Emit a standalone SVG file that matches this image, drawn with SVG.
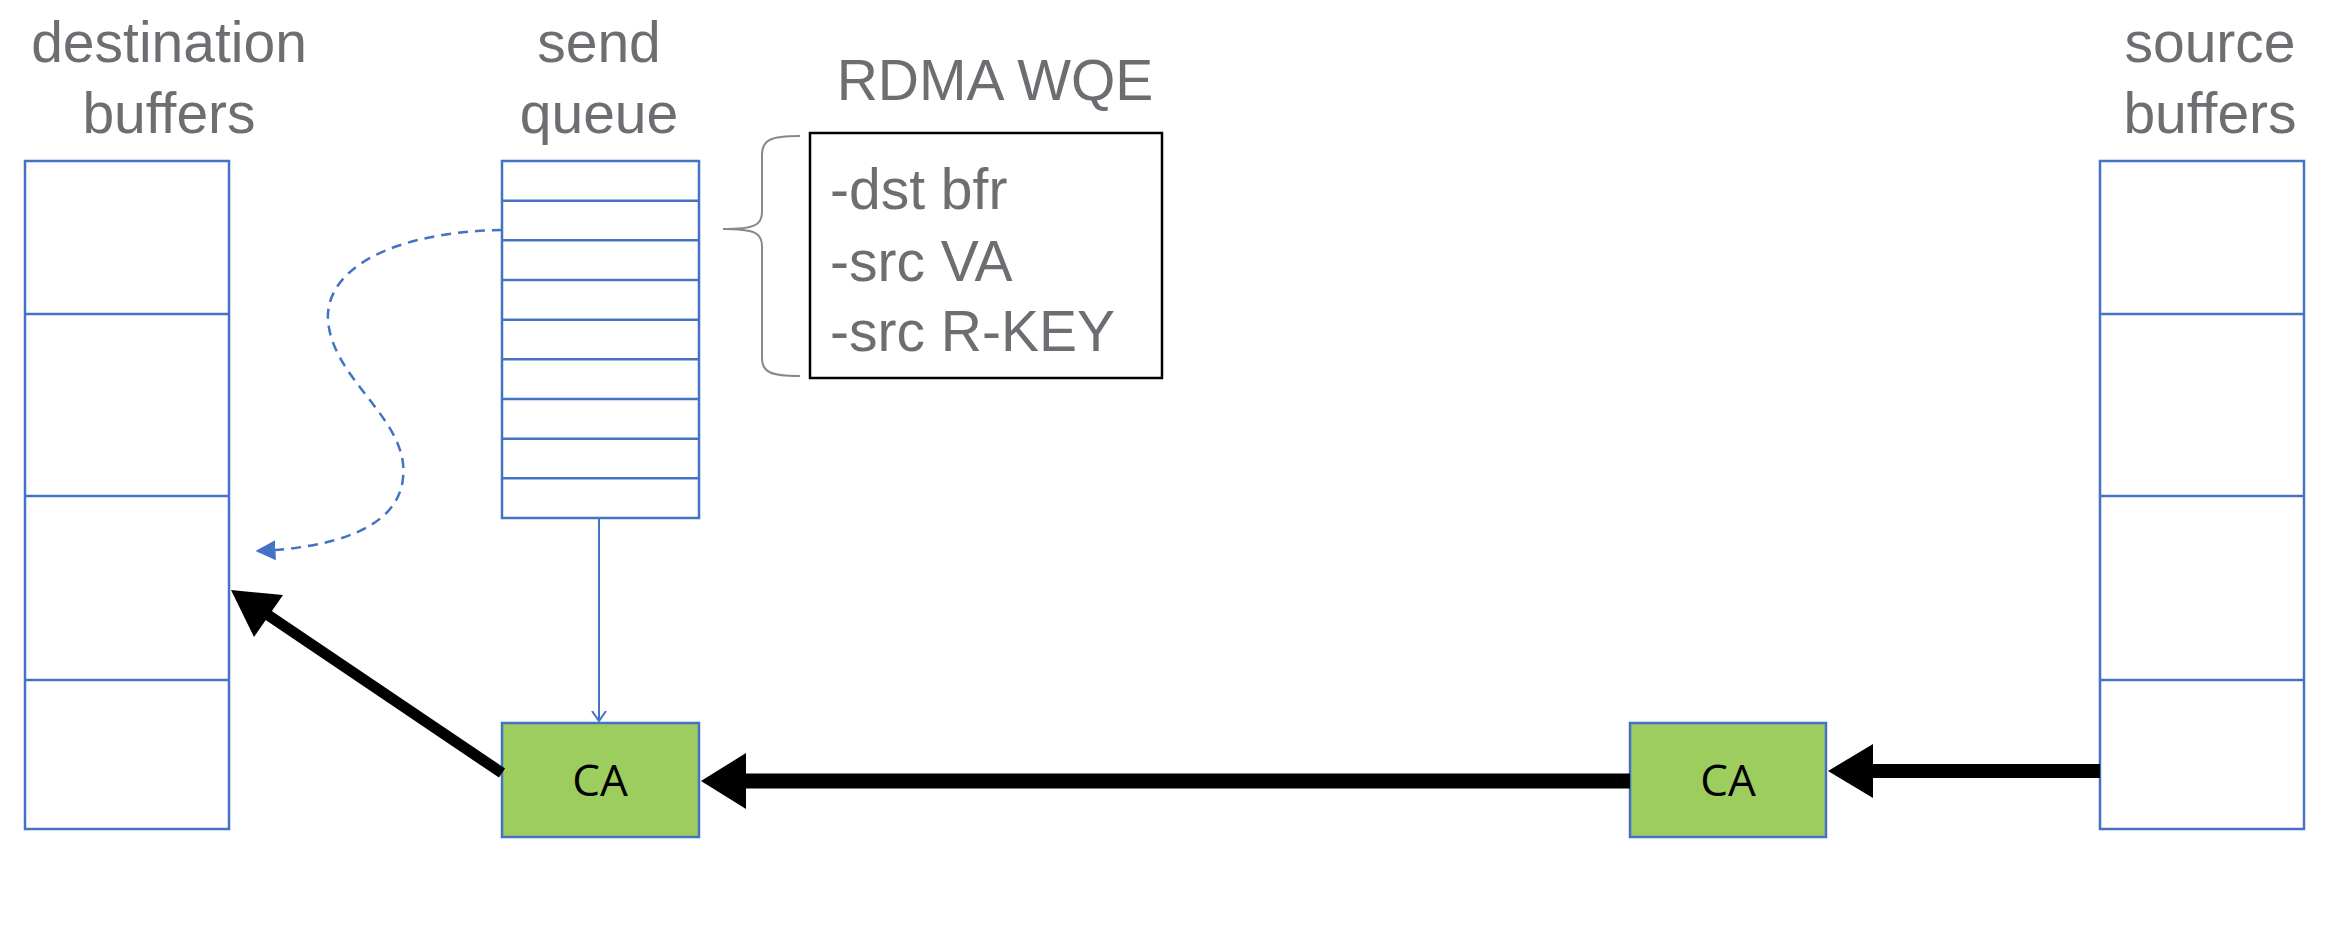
<svg xmlns="http://www.w3.org/2000/svg" width="2330" height="936" viewBox="0 0 2330 936">
<style>
.t{font-family:"Liberation Sans",Arial,sans-serif;font-size:57px;fill:#6d6e71;text-anchor:middle}
.w{font-family:"Liberation Sans",Arial,sans-serif;font-size:57px;fill:#6d6e71}
.b{fill:#fff;stroke:#4472c4;stroke-width:2.5}
.d{stroke:#4472c4;stroke-width:2.5}
.ca{fill:#9dcd5f;stroke:#4472c4;stroke-width:2.5}
.cat{font-family:"Open Sans","Liberation Sans",sans-serif;font-size:44px;fill:#000;text-anchor:middle}
</style>
<defs>
<marker id="bl" markerWidth="8" markerHeight="8" refX="7" refY="4" orient="auto" markerUnits="strokeWidth"><path d="M0,0 L8,4 L0,8 Z" fill="#4472c4"/></marker>
<marker id="op" markerWidth="12" markerHeight="16" refX="10" refY="8" orient="auto" markerUnits="userSpaceOnUse"><path d="M0,1 L10,8 L0,15" fill="none" stroke="#4472c4" stroke-width="2"/></marker>
</defs>
<g id="labels">
<text class="t" x="169" y="62">destination</text>
<text class="t" x="169" y="133">buffers</text>
<text class="t" x="599" y="62">send</text>
<text class="t" x="599" y="133">queue</text>
<text class="t" x="2210" y="62">source</text>
<text class="t" x="2210" y="133">buffers</text>
<text class="t" x="995" y="100">RDMA WQE</text>
</g>
<g id="dest-buffers">
<rect class="b" x="25" y="161" width="204" height="668"/>
<line class="d" x1="25" y1="314" x2="229" y2="314"/>
<line class="d" x1="25" y1="496" x2="229" y2="496"/>
<line class="d" x1="25" y1="680" x2="229" y2="680"/>
</g>
<g id="send-queue">
<rect class="b" x="502" y="161" width="197" height="357"/>
<line class="d" x1="502" y1="200.7" x2="699" y2="200.7"/>
<line class="d" x1="502" y1="240.3" x2="699" y2="240.3"/>
<line class="d" x1="502" y1="280" x2="699" y2="280"/>
<line class="d" x1="502" y1="319.7" x2="699" y2="319.7"/>
<line class="d" x1="502" y1="359.3" x2="699" y2="359.3"/>
<line class="d" x1="502" y1="399" x2="699" y2="399"/>
<line class="d" x1="502" y1="438.7" x2="699" y2="438.7"/>
<line class="d" x1="502" y1="478.3" x2="699" y2="478.3"/>
</g>
<g id="wqe">
<rect x="810" y="133" width="352" height="245" fill="#fff" stroke="#000" stroke-width="2.5"/>
<text class="w" x="830" y="209">-dst bfr</text>
<text class="w" x="830" y="281">-src VA</text>
<text class="w" x="830" y="351">-src R-KEY</text>
<path d="M800,136 C770,136 762,140 762,155 L762,212 C762,225 755,229 723,229 C755,229 762,233 762,246 L762,358 C762,372 770,376 800,376" fill="none" stroke="#888" stroke-width="2"/>
</g>
<g id="src-buffers">
<rect class="b" x="2100" y="161" width="204" height="668"/>
<line class="d" x1="2100" y1="314" x2="2304" y2="314"/>
<line class="d" x1="2100" y1="496" x2="2304" y2="496"/>
<line class="d" x1="2100" y1="680" x2="2304" y2="680"/>
</g>
<g id="ca-left">
<rect class="ca" x="502" y="723" width="197" height="114"/>
<text class="cat" x="600" y="796">CA</text>
</g>
<g id="ca-right">
<rect class="ca" x="1630" y="723" width="196" height="114"/>
<text class="cat" x="1728" y="796">CA</text>
</g>
<g id="connectors">
<line x1="599" y1="518" x2="599" y2="721" stroke="#4472c4" stroke-width="2" marker-end="url(#op)"/>
<path d="M502,230 C390,232 325,270 328,320 C332,380 410,420 403,478 C398,530 330,548 258,551" fill="none" stroke="#4472c4" stroke-width="2.5" stroke-dasharray="10,7" marker-end="url(#bl)"/>
<line x1="2100" y1="771" x2="1870" y2="771" stroke="#000" stroke-width="14"/>
<polygon points="1828,771 1873,744 1873,798" fill="#000"/>
<line x1="1630" y1="781" x2="740" y2="781" stroke="#000" stroke-width="15"/>
<polygon points="701,781 746,753 746,809" fill="#000"/>
<line x1="502" y1="773" x2="265" y2="613" stroke="#000" stroke-width="11"/>
<polygon points="231,590 283,595 254,637" fill="#000"/>
</g>
</svg>
